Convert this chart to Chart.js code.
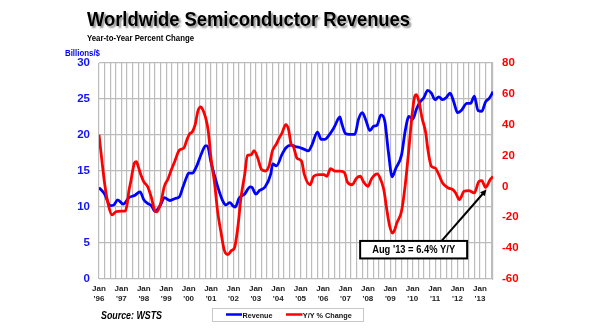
<!DOCTYPE html>
<html>
<head>
<meta charset="utf-8">
<script src="https://cdn.jsdelivr.net/npm/chart.js@4/dist/chart.umd.min.js"></script>
<style>
html,body{margin:0;padding:0;background:#fff;}
#wrap{position:relative;width:595px;height:335px;}
</style>
</head>
<body>
<div id="wrap"><canvas id="c" width="595" height="335"></canvas></div>
<script>
// ---- DATA (month index: 0 = Jan '96) ----
const yearLabels = ["'96","'97","'98","'99","'00","'01","'02","'03","'04","'05","'06","'07","'08","'09","'10","'11","'12","'13"];
const revMonths = [0,3,6,8,10,13,16,19,22,24,26,28,30,33,35,38,41,43,45,47,48,50,52,55,57,58,60,63,66,68,70,72,73,75,78,81,82,84,86,89,92,93,95,98,100,103,105,107,110,112,114,117,119,121,123,126,129,130,132,134,137,139,141,143,145,147,149,151,153,155,157,159,162,164,166,168,170,172,174,176,178,180,182,184,186,188,190,192,194,197,199,201,203,205,207,209,211];
const revValues = [12.7,11.8,10.2,10.3,11.0,10.4,11.3,11.6,12.1,11.0,10.5,10.2,9.4,10.3,11.3,10.9,11.2,11.4,12.8,14.2,14.7,14.7,15.5,17.5,18.5,18.5,16.2,13.3,11.0,10.3,10.6,10.1,10.0,11.2,11.8,12.8,12.7,11.8,12.3,12.8,14.6,16.0,15.7,17.3,18.2,18.6,18.4,18.3,18.0,17.8,18.6,20.4,19.4,19.4,19.9,21.1,22.5,21.6,20.2,20.1,20.1,22.2,23.1,22.0,20.6,21.2,21.4,22.8,22.0,17.6,14.2,15.4,17.2,20.6,22.6,22.2,23.6,24.6,25.2,26.2,25.8,24.9,25.3,24.9,25.2,25.8,24.6,23.1,23.4,24.4,24.4,25.4,23.4,23.3,24.6,25.1,26.0];
const yoyMonths = [0,2,3,5,7,9,12,14,15,16,17,18,19,20,21,22,24,26,28,30,31,33,35,37,38.5,40.5,43,45.5,47,48.5,50,51.5,53,54.5,55.5,57,58.5,60,62,63.5,65.5,67,69,71,72.5,74.5,76,78,79.5,81.5,83,85,87,89,91,93,95,96.5,98,100,101.5,103,104,106,108.5,110,113,115,118,120.5,122,124,126.5,129,131.5,133,135.5,138,140,141.5,144,146,149,150.5,152.5,154,155.5,157,158,159.5,162,164,166,167.5,169,170,171.5,173,175,176,178,180,182,184,187,189.5,191,193,195.5,198,201,203.5,205,207,209.5,211];
const yoyValues = [33.5,12,2,-12,-18.5,-16.4,-16,-16,-12,-3,3,10,15.2,16,13,9,3,0,-7,-16,-16.5,-11,0,5,10,16,23.5,25,30,34,35.5,40,49,51.5,50,45,36,18,1,-16,-31,-41,-44.2,-41.5,-40,-25,-7.5,7.6,20,20.5,23.2,18.4,11,10,13,23.5,27.5,31.4,34.6,40,37,27,26,18.4,16.3,7.6,1,6.6,7.6,7.6,6.6,11.5,9.9,9.9,8.9,2.9,1.1,5.5,6.6,3.3,0.1,5,8.1,5.5,-2,-14,-24.8,-30.2,-29.2,-23.7,-16.1,1,25,44.4,58,59.5,54,44.4,34.6,24.9,13,12,7.6,2.2,-1,-2.1,-4.2,-8.6,-3.1,-2.7,-4.2,3.3,3.7,-0.6,4.4,6.4];
const leftTicks = {min:0, max:30, step:5};
const rightTicks = {min:-60, max:80, step:20};

const FONT = "'Liberation Sans', Arial, sans-serif";
const BLUE = '#0000ff', RED = '#ff0000', GRID = '#bcbcbc';

function fitText(ctx, text, x, y, font, width, color, align) {
  ctx.save();
  ctx.font = font;
  ctx.fillStyle = color;
  ctx.textBaseline = 'alphabetic';
  const w = ctx.measureText(text).width;
  const s = width / w;
  ctx.translate(x, y);
  ctx.scale(s, 1);
  ctx.textAlign = align || 'left';
  ctx.fillText(text, 0, 0);
  ctx.restore();
}

const decor = {
  id: 'decor',
  afterDraw(chart) {
    const ctx = chart.ctx;
    ctx.save();
    ctx.shadowColor = 'rgba(0,0,0,0.45)';
    ctx.shadowOffsetX = 2; ctx.shadowOffsetY = 2; ctx.shadowBlur = 2;
    fitText(ctx, 'Worldwide Semiconductor Revenues', 87, 26, 'bold 21px ' + FONT, 323, '#000');
    ctx.restore();
    fitText(ctx, 'Year-to-Year Percent Change', 87, 41, 'bold 9px ' + FONT, 107, '#000');
    fitText(ctx, 'Billions/$', 65, 56, 'bold 9px ' + FONT, 35, BLUE);
    fitText(ctx, 'Source: WSTS', 101, 318.5, 'italic bold 10px ' + FONT, 61, '#000');

    ctx.save();
    ctx.fillStyle = '#fff';
    ctx.strokeStyle = '#c8c8c8';
    ctx.lineWidth = 1;
    ctx.fillRect(212.5, 308.5, 151, 13);
    ctx.strokeRect(212.5, 308.5, 151, 13);
    ctx.lineWidth = 2.5;
    ctx.strokeStyle = BLUE;
    ctx.beginPath(); ctx.moveTo(226, 314.5); ctx.lineTo(242, 314.5); ctx.stroke();
    ctx.strokeStyle = RED;
    ctx.beginPath(); ctx.moveTo(286, 314.5); ctx.lineTo(302.5, 314.5); ctx.stroke();
    ctx.restore();
    fitText(ctx, 'Revenue', 242.5, 317.8, 'bold 8px ' + FONT, 30, '#111');
    fitText(ctx, 'Y/Y % Change', 302.8, 317.8, 'bold 8px ' + FONT, 49, '#111');

    const xs = chart.scales.x, y1 = chart.scales.y1;
    const last = yoyMonths.length - 1;
    const px = xs.getPixelForValue(yoyMonths[last]);
    const py = y1.getPixelForValue(yoyValues[last]);
    const cx = xs.getPixelForValue(168.5), cy = y1.getPixelForValue(-41);
    const bw = 107, bh = 17.5;
    const sx = cx + 28, sy = cy - bh / 2;
    const tx = px - 6.5, ty = py + 13;
    ctx.save();
    ctx.strokeStyle = '#000'; ctx.fillStyle = '#000'; ctx.lineWidth = 2;
    const ang = Math.atan2(ty - sy, tx - sx);
    const ah = 7;
    ctx.beginPath(); ctx.moveTo(sx, sy); ctx.lineTo(tx - Math.cos(ang) * ah * 0.8, ty - Math.sin(ang) * ah * 0.8); ctx.stroke();
    ctx.beginPath();
    ctx.moveTo(tx, ty);
    ctx.lineTo(tx - ah * Math.cos(ang - 0.45), ty - ah * Math.sin(ang - 0.45));
    ctx.lineTo(tx - ah * Math.cos(ang + 0.45), ty - ah * Math.sin(ang + 0.45));
    ctx.closePath(); ctx.fill();
    ctx.fillStyle = '#fff';
    ctx.fillRect(cx - bw / 2, cy - bh / 2, bw, bh);
    ctx.lineWidth = 2;
    ctx.strokeRect(cx - bw / 2, cy - bh / 2, bw, bh);
    ctx.restore();
    fitText(ctx, "Aug '13 = 6.4% Y/Y", cx, cy + 3.8, 'bold 10px ' + FONT, 83, '#000', 'center');
  }
};

const quarterTicks = [];
for (let m = 0; m <= 210; m += 3) quarterTicks.push({value: m});

new Chart(document.getElementById('c'), {
  type: 'line',
  data: {
    datasets: [
      {
        label: 'Revenue',
        data: revMonths.map((m, i) => ({x: m, y: revValues[i]})),
        borderColor: BLUE, borderWidth: 2.8, pointRadius: 0,
        cubicInterpolationMode: 'monotone', yAxisID: 'y', order: 1, fill: false
      },
      {
        label: 'Y/Y % Change',
        data: yoyMonths.map((m, i) => ({x: m, y: yoyValues[i]})),
        borderColor: RED, borderWidth: 2.8, pointRadius: 0,
        cubicInterpolationMode: 'monotone', yAxisID: 'y1', order: 0, fill: false
      }
    ]
  },
  options: {
    responsive: false,
    animation: false,
    events: [],
    layout: {padding: {top: 63, left: 0, right: 0, bottom: 0}},
    plugins: {legend: {display: false}, tooltip: {enabled: false}, title: {display: false}},
    scales: {
      x: {
        type: 'linear', min: 0, max: 211,
        afterBuildTicks: s => { s.ticks = quarterTicks.map(t => ({value: t.value})); },
        afterFit: s => { s.height = 56; },
        grid: {color: GRID, lineWidth: 1.2, drawTicks: false},
        border: {display: false},
        ticks: {
          autoSkip: false, maxRotation: 0, minRotation: 0, padding: 5,
          color: '#222', font: {family: FONT, size: 8, weight: 'bold', lineHeight: 1.2},
          callback: v => (v % 12 === 0 ? ['Jan', yearLabels[v / 12]] : '')
        }
      },
      y: {
        position: 'left', min: leftTicks.min, max: leftTicks.max,
        afterFit: s => { s.width = 99; },
        grid: {color: GRID, lineWidth: 1.2, drawTicks: false},
        border: {display: false},
        ticks: {stepSize: leftTicks.step, padding: 9, color: '#1414f0', font: {family: FONT, size: 11.5, weight: 'bold'}}
      },
      y1: {
        position: 'right', min: rightTicks.min, max: rightTicks.max,
        afterFit: s => { s.width = 102; },
        grid: {display: false, drawTicks: false},
        border: {display: true, color: GRID, width: 1.2},
        ticks: {stepSize: rightTicks.step, padding: 9, color: RED, font: {family: FONT, size: 11.5, weight: 'bold'}}
      }
    }
  },
  plugins: [decor]
});
</script>
</body>
</html>
